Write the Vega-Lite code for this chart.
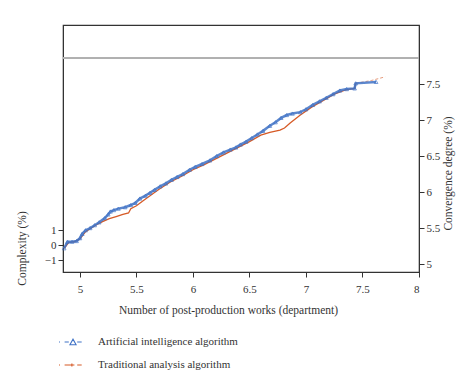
{
  "$schema": "https://vega.github.io/schema/vega-lite/v6.json",
  "width": 356,
  "height": 247,
  "padding": {"left": 16, "top": 25, "right": 5, "bottom": 5},
  "background": "white",
  "config": {
    "font": "Liberation Serif",
    "view": {"stroke": "#333", "strokeWidth": 1.2},
    "axis": {"labelFont": "Liberation Serif", "titleFont": "Liberation Serif", "labelFontSize": 11, "titleFontSize": 11.5, "titleFontWeight": "normal", "labelColor": "#333", "titleColor": "#333", "domainColor": "#333", "tickColor": "#333", "grid": false, "tickSize": 5, "format": "~g"},
    "legend": {"labelFont": "Liberation Serif", "labelFontSize": 11, "labelColor": "#333"}
  },
  "data": {"values": [
    {"series": "Artificial intelligence algorithm", "dept": 4.86, "conv": 5.22},
    {"series": "Artificial intelligence algorithm", "dept": 4.89, "conv": 5.31},
    {"series": "Artificial intelligence algorithm", "dept": 4.93, "conv": 5.31},
    {"series": "Artificial intelligence algorithm", "dept": 4.97, "conv": 5.32},
    {"series": "Artificial intelligence algorithm", "dept": 5.00, "conv": 5.36},
    {"series": "Artificial intelligence algorithm", "dept": 5.02, "conv": 5.42},
    {"series": "Artificial intelligence algorithm", "dept": 5.05, "conv": 5.47},
    {"series": "Artificial intelligence algorithm", "dept": 5.09, "conv": 5.50},
    {"series": "Artificial intelligence algorithm", "dept": 5.13, "conv": 5.54},
    {"series": "Artificial intelligence algorithm", "dept": 5.17, "conv": 5.58},
    {"series": "Artificial intelligence algorithm", "dept": 5.22, "conv": 5.64},
    {"series": "Artificial intelligence algorithm", "dept": 5.25, "conv": 5.69},
    {"series": "Artificial intelligence algorithm", "dept": 5.27, "conv": 5.73},
    {"series": "Artificial intelligence algorithm", "dept": 5.30, "conv": 5.75},
    {"series": "Artificial intelligence algorithm", "dept": 5.34, "conv": 5.77},
    {"series": "Artificial intelligence algorithm", "dept": 5.40, "conv": 5.79},
    {"series": "Artificial intelligence algorithm", "dept": 5.45, "conv": 5.82},
    {"series": "Artificial intelligence algorithm", "dept": 5.49, "conv": 5.85},
    {"series": "Artificial intelligence algorithm", "dept": 5.53, "conv": 5.91},
    {"series": "Artificial intelligence algorithm", "dept": 5.58, "conv": 5.95},
    {"series": "Artificial intelligence algorithm", "dept": 5.62, "conv": 5.99},
    {"series": "Artificial intelligence algorithm", "dept": 5.66, "conv": 6.03},
    {"series": "Artificial intelligence algorithm", "dept": 5.71, "conv": 6.08},
    {"series": "Artificial intelligence algorithm", "dept": 5.76, "conv": 6.12},
    {"series": "Artificial intelligence algorithm", "dept": 5.81, "conv": 6.17},
    {"series": "Artificial intelligence algorithm", "dept": 5.86, "conv": 6.21},
    {"series": "Artificial intelligence algorithm", "dept": 5.91, "conv": 6.25},
    {"series": "Artificial intelligence algorithm", "dept": 5.97, "conv": 6.31},
    {"series": "Artificial intelligence algorithm", "dept": 6.02, "conv": 6.35},
    {"series": "Artificial intelligence algorithm", "dept": 6.08, "conv": 6.39},
    {"series": "Artificial intelligence algorithm", "dept": 6.15, "conv": 6.44},
    {"series": "Artificial intelligence algorithm", "dept": 6.21, "conv": 6.50},
    {"series": "Artificial intelligence algorithm", "dept": 6.27, "conv": 6.55},
    {"series": "Artificial intelligence algorithm", "dept": 6.33, "conv": 6.59},
    {"series": "Artificial intelligence algorithm", "dept": 6.38, "conv": 6.62},
    {"series": "Artificial intelligence algorithm", "dept": 6.42, "conv": 6.66},
    {"series": "Artificial intelligence algorithm", "dept": 6.47, "conv": 6.70},
    {"series": "Artificial intelligence algorithm", "dept": 6.52, "conv": 6.75},
    {"series": "Artificial intelligence algorithm", "dept": 6.57, "conv": 6.80},
    {"series": "Artificial intelligence algorithm", "dept": 6.62, "conv": 6.85},
    {"series": "Artificial intelligence algorithm", "dept": 6.68, "conv": 6.92},
    {"series": "Artificial intelligence algorithm", "dept": 6.73, "conv": 6.97},
    {"series": "Artificial intelligence algorithm", "dept": 6.78, "conv": 7.03},
    {"series": "Artificial intelligence algorithm", "dept": 6.83, "conv": 7.07},
    {"series": "Artificial intelligence algorithm", "dept": 6.88, "conv": 7.09},
    {"series": "Artificial intelligence algorithm", "dept": 6.95, "conv": 7.11},
    {"series": "Artificial intelligence algorithm", "dept": 7.00, "conv": 7.15},
    {"series": "Artificial intelligence algorithm", "dept": 7.06, "conv": 7.21},
    {"series": "Artificial intelligence algorithm", "dept": 7.12, "conv": 7.26},
    {"series": "Artificial intelligence algorithm", "dept": 7.18, "conv": 7.31},
    {"series": "Artificial intelligence algorithm", "dept": 7.24, "conv": 7.36},
    {"series": "Artificial intelligence algorithm", "dept": 7.30, "conv": 7.41},
    {"series": "Artificial intelligence algorithm", "dept": 7.36, "conv": 7.43},
    {"series": "Artificial intelligence algorithm", "dept": 7.43, "conv": 7.44},
    {"series": "Artificial intelligence algorithm", "dept": 7.44, "conv": 7.51},
    {"series": "Artificial intelligence algorithm", "dept": 7.62, "conv": 7.53},
    {"series": "Traditional analysis algorithm", "dept": 4.86, "conv": 5.22},
    {"series": "Traditional analysis algorithm", "dept": 4.90, "conv": 5.30},
    {"series": "Traditional analysis algorithm", "dept": 4.95, "conv": 5.31},
    {"series": "Traditional analysis algorithm", "dept": 5.00, "conv": 5.35},
    {"series": "Traditional analysis algorithm", "dept": 5.05, "conv": 5.45},
    {"series": "Traditional analysis algorithm", "dept": 5.10, "conv": 5.50},
    {"series": "Traditional analysis algorithm", "dept": 5.15, "conv": 5.55},
    {"series": "Traditional analysis algorithm", "dept": 5.20, "conv": 5.59},
    {"series": "Traditional analysis algorithm", "dept": 5.26, "conv": 5.63},
    {"series": "Traditional analysis algorithm", "dept": 5.32, "conv": 5.66},
    {"series": "Traditional analysis algorithm", "dept": 5.38, "conv": 5.69},
    {"series": "Traditional analysis algorithm", "dept": 5.43, "conv": 5.71},
    {"series": "Traditional analysis algorithm", "dept": 5.45, "conv": 5.77},
    {"series": "Traditional analysis algorithm", "dept": 5.50, "conv": 5.81},
    {"series": "Traditional analysis algorithm", "dept": 5.55, "conv": 5.87},
    {"series": "Traditional analysis algorithm", "dept": 5.62, "conv": 5.95},
    {"series": "Traditional analysis algorithm", "dept": 5.70, "conv": 6.04},
    {"series": "Traditional analysis algorithm", "dept": 5.80, "conv": 6.14},
    {"series": "Traditional analysis algorithm", "dept": 5.90, "conv": 6.22},
    {"series": "Traditional analysis algorithm", "dept": 6.00, "conv": 6.31},
    {"series": "Traditional analysis algorithm", "dept": 6.10, "conv": 6.38},
    {"series": "Traditional analysis algorithm", "dept": 6.20, "conv": 6.46},
    {"series": "Traditional analysis algorithm", "dept": 6.30, "conv": 6.54},
    {"series": "Traditional analysis algorithm", "dept": 6.40, "conv": 6.62},
    {"series": "Traditional analysis algorithm", "dept": 6.50, "conv": 6.70},
    {"series": "Traditional analysis algorithm", "dept": 6.60, "conv": 6.79},
    {"series": "Traditional analysis algorithm", "dept": 6.68, "conv": 6.83},
    {"series": "Traditional analysis algorithm", "dept": 6.77, "conv": 6.86},
    {"series": "Traditional analysis algorithm", "dept": 6.81, "conv": 6.89},
    {"series": "Traditional analysis algorithm", "dept": 6.86, "conv": 6.96},
    {"series": "Traditional analysis algorithm", "dept": 6.95, "conv": 7.07},
    {"series": "Traditional analysis algorithm", "dept": 7.05, "conv": 7.18},
    {"series": "Traditional analysis algorithm", "dept": 7.15, "conv": 7.27},
    {"series": "Traditional analysis algorithm", "dept": 7.25, "conv": 7.36},
    {"series": "Traditional analysis algorithm", "dept": 7.35, "conv": 7.42},
    {"series": "Traditional analysis algorithm", "dept": 7.43, "conv": 7.44},
    {"series": "Traditional analysis algorithm", "dept": 7.44, "conv": 7.51},
    {"series": "Traditional analysis algorithm", "dept": 7.58, "conv": 7.55},
    {"series": "Traditional analysis algorithm", "dept": 7.70, "conv": 7.60}
  ]},
  "layer": [
    {
      "mark": {"type": "rule", "opacity": 0},
      "encoding": {
        "y": {"datum": 0, "type": "quantitative", "scale": {"domain": [-1.8, 14.67], "nice": false, "zero": false},
          "axis": {"orient": "left", "title": "Complexity (%)", "values": [-1, 0, 1], "titleAngle": -90, "titleY": 223, "titleX": -36, "titleAlign": "center", "titlePadding": 0}}
      }
    },
    {
      "encoding": {
        "x": {"field": "dept", "type": "quantitative", "scale": {"domain": [4.85, 8], "nice": false, "zero": false},
          "axis": {"title": "Number of post-production works (department)", "values": [5, 5.5, 6, 6.5, 7, 7.5, 8], "labelPadding": 6, "titleX": 165, "titleY": 32}},
        "y": {"field": "conv", "type": "quantitative", "scale": {"domain": [4.89, 8.32], "nice": false, "zero": false},
          "axis": {"orient": "right", "title": "Convergence degree (%)", "values": [5, 5.5, 6, 6.5, 7, 7.5], "titleAngle": -90, "titleY": 148, "titleAlign": "center", "titlePadding": 14}},
        "color": {"field": "series", "type": "nominal", "scale": {"domain": ["Artificial intelligence algorithm", "Traditional analysis algorithm"], "range": ["#3f72c6", "#d65a26"]},
          "legend": {"title": null, "orient": "none", "legendX": -5, "legendY": 302, "symbolSize": 784, "labelOffset": 10, "rowPadding": 3, "symbolStrokeWidth": 1.1,
            "encode": {"symbols": {"update": {"fill": {"value": "transparent"}, "shape": {"signal": "datum.value === 'Artificial intelligence algorithm' ? 'M-1,0L-0.93,0M-0.6,0L-0.3,0M-0.22,0.2L0,-0.2L0.22,0.2ZM0.3,0L0.62,0' : 'M-1,0L-0.93,0M-0.6,0L0.1,0M-0.08,-0.1L-0.08,0.1M0.3,0L0.62,0'"}}}}}}
      },
      "layer": [
        {"mark": {"type": "rule", "stroke": "#b0b0b0", "strokeWidth": 1}, "encoding": {"y": {"datum": 7.86, "type": "quantitative"}, "x": null, "color": null}},
        {"transform": [{"filter": "datum.series === 'Traditional analysis algorithm' && datum.dept <= 7.44"}], "mark": {"type": "line", "strokeWidth": 1.3}},
        {"transform": [{"filter": "datum.series === 'Traditional analysis algorithm' && datum.dept >= 7.44"}], "mark": {"type": "line", "strokeWidth": 1, "strokeDash": [3, 2], "opacity": 0.6}},
        {"transform": [{"filter": "datum.series === 'Artificial intelligence algorithm'"}], "mark": {"type": "line", "strokeWidth": 2.5, "opacity": 0.85}},
        {"transform": [{"filter": "datum.series === 'Artificial intelligence algorithm'"}], "mark": {"type": "point", "shape": "triangle-up", "size": 14, "filled": false, "strokeWidth": 1, "opacity": 0.7}}
      ]
    }
  ],
  "resolve": {"scale": {"y": "independent"}, "axis": {"y": "independent"}}
}
